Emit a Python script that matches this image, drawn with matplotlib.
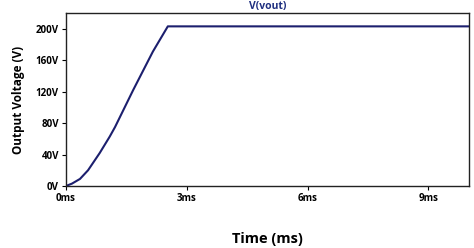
import matplotlib
matplotlib.use("Agg")
import matplotlib.pyplot as plt
from matplotlib.ticker import FuncFormatter

t_ms = [0.0, 0.15, 0.35, 0.55, 0.84, 1.09, 1.22, 1.67, 2.16, 2.53, 10.0]
v_out = [0.0, 3.0, 9.0, 20.0, 42.0, 63.0, 75.0, 122.0, 171.0, 203.0, 203.0]
x_ticks = [0, 3, 6, 9]
y_ticks = [0, 40, 80, 120, 160, 200]

plt.rcParams['font.family'] = ['Open Sans', 'DejaVu Sans']

fig = plt.figure(figsize=(4.74, 2.48), dpi=100)
ax = fig.add_axes([0.139, 0.25, 0.850, 0.6976])

ax.plot(t_ms, v_out, color="#1c1f6e", linewidth=1.5)

ax.set_xlim(0, 10)
ax.set_ylim(0, 220)
ax.set_xticks(x_ticks)
ax.set_yticks(y_ticks)
ax.xaxis.set_major_formatter(FuncFormatter(lambda v, p: f"{v:g}ms"))
ax.yaxis.set_major_formatter(FuncFormatter(lambda v, p: f"{v:g}V"))
ax.tick_params(direction="out", length=3, width=0.8, labelsize=7, pad=2)
for lab in ax.get_xticklabels() + ax.get_yticklabels():
    lab.set_fontweight("bold")
for s in ax.spines.values():
    s.set_color("#222222")
    s.set_linewidth(1.0)

ax.set_title("V(vout)", color="#1f2f80", fontsize=7.5, fontweight="bold", pad=3)
ax.set_xlabel("Time (ms)", fontsize=10.5, fontweight="bold", labelpad=20)
ax.set_ylabel("Output Voltage (V)", fontsize=8.5, fontweight="bold", labelpad=8)

fig.savefig("out.png", dpi=100)
